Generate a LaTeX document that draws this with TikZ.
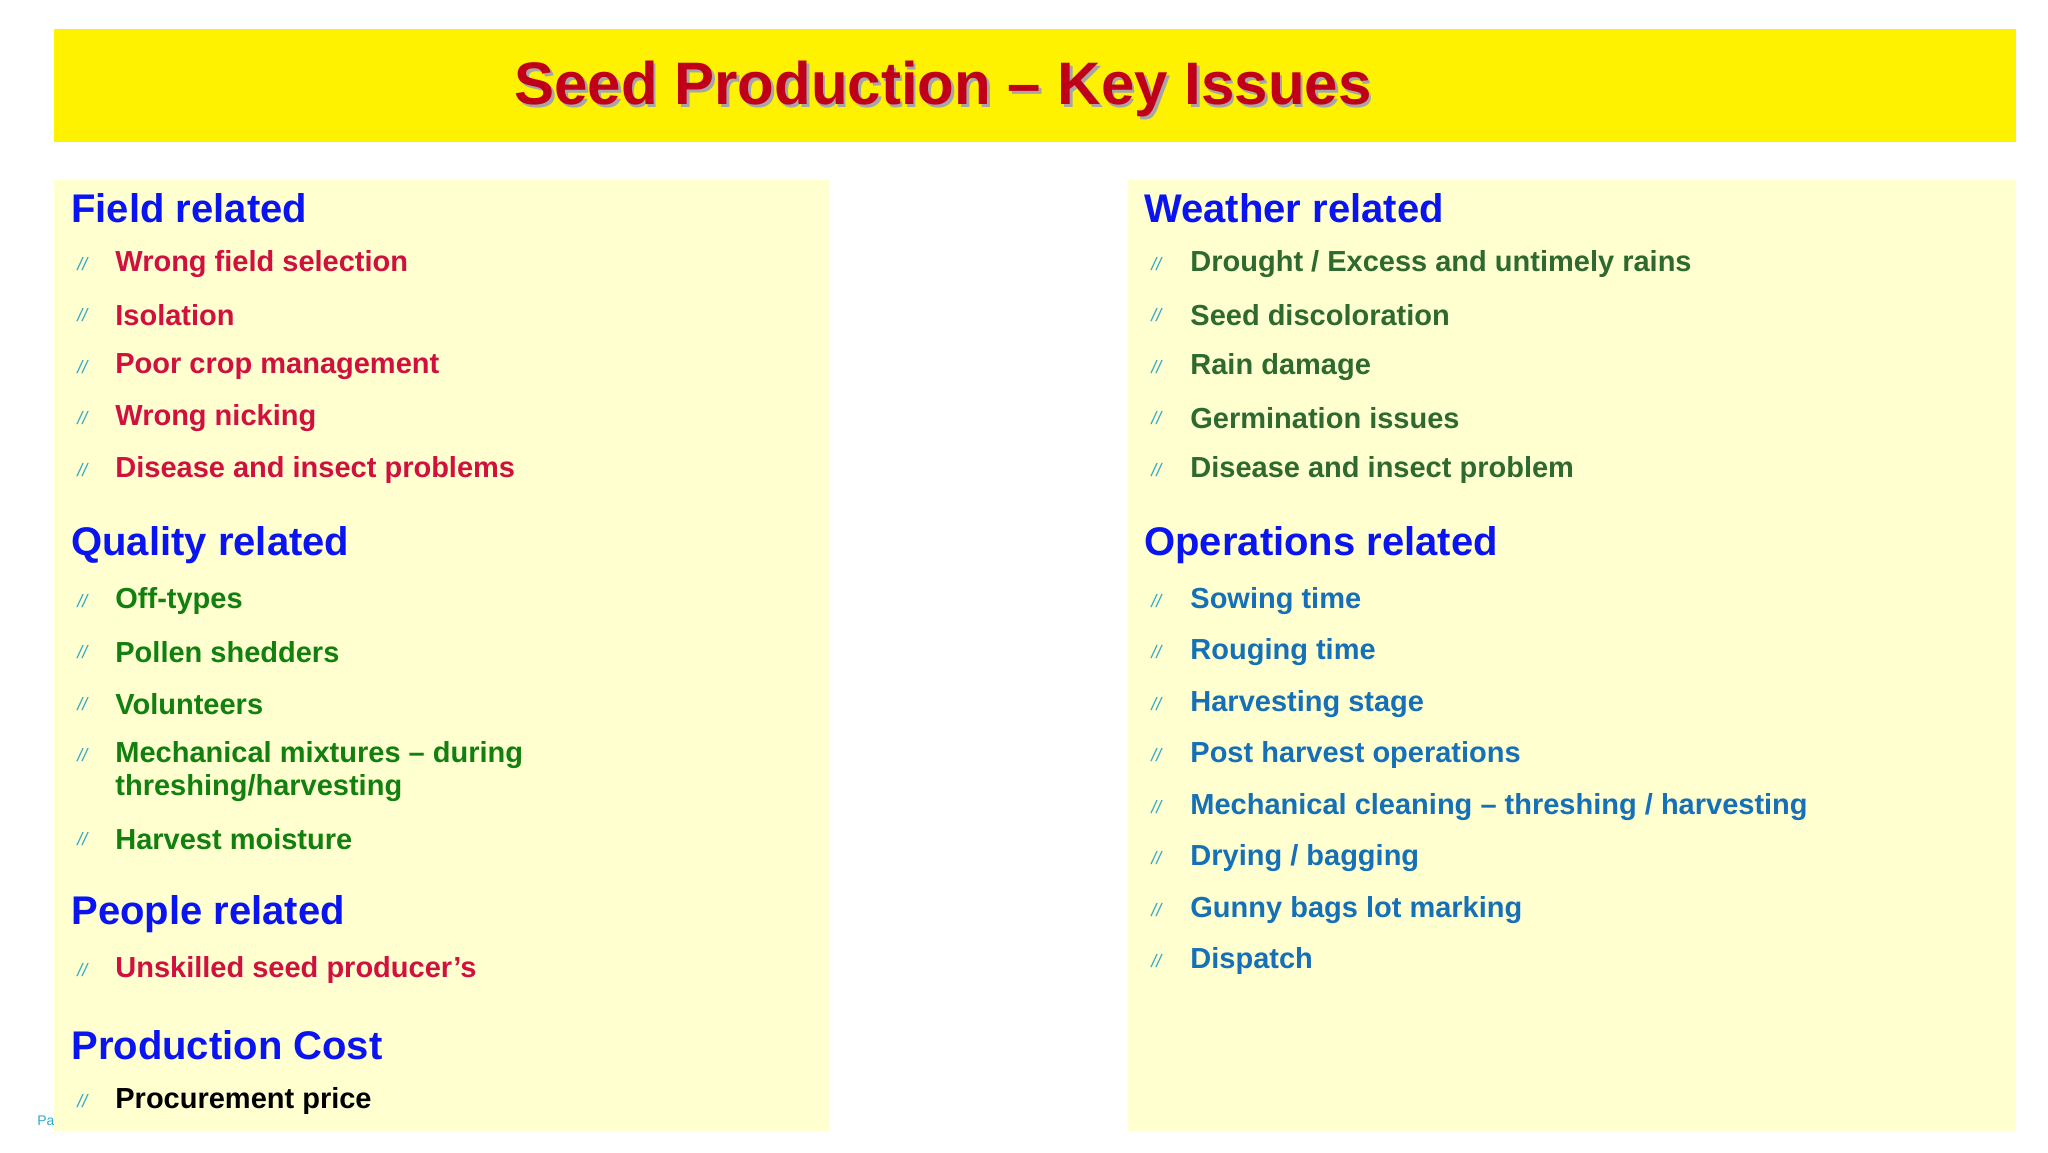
\documentclass[tikz,border=0pt]{standalone}
\usepackage{fontspec}
\setmainfont{Liberation Sans}
\definecolor{panel}{HTML}{FFFFD0}
\definecolor{titlered}{HTML}{C00018}
\definecolor{headblue}{HTML}{0A14F0}
\definecolor{crim}{HTML}{D0103E}
\definecolor{qgreen}{HTML}{12800F}
\definecolor{wgreen}{HTML}{2E6A30}
\definecolor{opblue}{HTML}{1570B8}
\definecolor{bul}{HTML}{30A8C8}
\tikzset{
  heading/.style={anchor=west,inner sep=0pt,font=\fontsize{20}{24}\selectfont\bfseries,text=headblue},
  item/.style={anchor=west,inner sep=0pt,font=\fontsize{14.5}{16.5}\selectfont\bfseries},
  bulletmark/.style={anchor=west,inner sep=0pt,font=\fontsize{9}{10}\selectfont,text=bul},
  titletext/.style={inner sep=0pt,font=\fontsize{30}{34}\selectfont\bfseries}
}
\begin{document}
\begin{tikzpicture}[x=0.5pt,y=-0.5pt]
\useasboundingbox (0,0) rectangle (2048,1152);
\fill[white] (0,0) rectangle (2048,1152);
\fill[yellow] (54,29) rectangle (2016,142);
\node[titletext,text=black!35] (titleshadow) at (945.5,91.5) {Seed Production – Key Issues};
\node[titletext,text=titlered] (title) at (943,89) {Seed Production – Key Issues};
\node[font=\fontsize{7}{8}\selectfont,text=bul,anchor=west,inner sep=0pt] (pa) at (37,1121) {Pa};
\fill[panel] (54,180) rectangle (829,1131);
\fill[panel] (1128,180) rectangle (2016,1131);
% left
\node[heading] (h1) at (71,208) {Field related};
\node[heading] (h2) at (71,545) {Quality related};
\node[heading] (h3) at (71,914) {People related};
\node[heading] (h4) at (71,1045) {Production Cost};
\node[heading] (h5) at (1144,208) {Weather related};
\node[heading] (h6) at (1144,545) {Operations related};
\foreach \n/\y/\t in {a1/264/{Wrong field selection},a2/315/{Isolation},a3/367/{Poor crop management},a4/418/{Wrong nicking},a5/470/{Disease and insect problems},c1/970/{Unskilled seed producer’s}}{
  \node[bulletmark] (\n b) at (77,\y) {\itshape //};
  \node[item,text=crim] (\n) at (115,\y) {\t};}
\foreach \n/\y/\t in {b1/601/{Off-types},b2/652/{Pollen shedders},b3/704/{Volunteers},b5/839/{Harvest moisture}}{
  \node[bulletmark] (\n b) at (77,\y) {\itshape //};
  \node[item,text=qgreen] (\n) at (115,\y) {\t};}
\node[bulletmark] (b4b) at (77,755) {\itshape //};
\node[item,text=qgreen,anchor=north west,align=left] (b4) at (115,741) {Mechanical mixtures – during\\threshing/harvesting};
\node[bulletmark] (d1b) at (77,1101) {\itshape //};
\node[item,text=black] (d1) at (115,1101) {Procurement price};
% right
\foreach \n/\y/\t in {e1/264/{Drought / Excess and untimely rains},e2/315/{Seed discoloration},e3/367/{Rain damage},e4/418/{Germination issues},e5/470/{Disease and insect problem}}{
  \node[bulletmark] (\n b) at (1151,\y) {\itshape //};
  \node[item,text=wgreen] (\n) at (1190,\y) {\t};}
\foreach \n/\y/\t in {f1/601/{Sowing time},f2/652/{Rouging time},f3/704/{Harvesting stage},f4/755/{Post harvest operations},f5/807/{Mechanical cleaning – threshing / harvesting},f6/858/{Drying / bagging},f7/910/{Gunny bags lot marking},f8/961/{Dispatch}}{
  \node[bulletmark] (\n b) at (1151,\y) {\itshape //};
  \node[item,text=opblue] (\n) at (1190,\y) {\t};}
\end{tikzpicture}
\end{document}
